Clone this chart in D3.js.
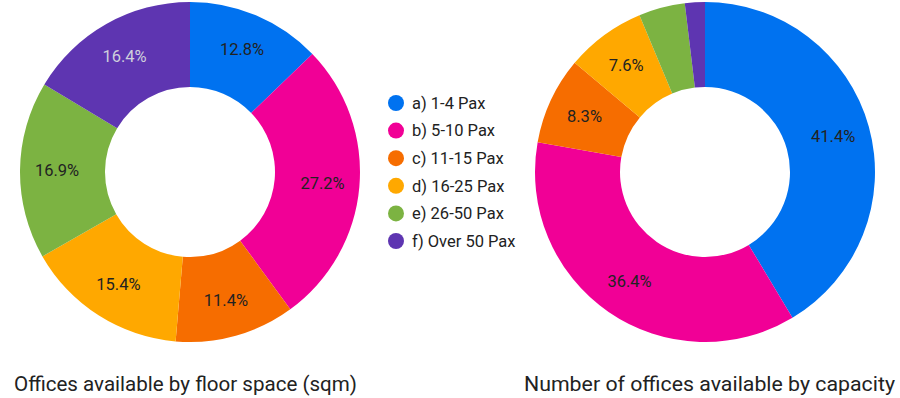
<!DOCTYPE html>
<html>
<head>
<meta charset="utf-8">
<script src="https://cdn.jsdelivr.net/npm/d3@7"></script>
<style>
html,body{margin:0;padding:0;background:#fff;}
svg{display:block;font-family:Roboto, "Noto Sans", sans-serif;}
</style>
</head>
<body>
<svg id="chart" width="900" height="398"></svg>
<script>
const categories = ["a) 1-4 Pax","b) 5-10 Pax","c) 11-15 Pax","d) 16-25 Pax","e) 26-50 Pax","f) Over 50 Pax"];
const colors = ["#0072f0","#f10096","#f66d00","#ffa800","#7cb342","#5e35b1"];
const floorSpaceValues = [12.8, 27.2, 11.4, 15.4, 16.9, 16.4];
const capacityValues = [41.4, 36.4, 8.3, 7.6, 4.4, 1.9];
const titles = ["Offices available by floor space (sqm)", "Number of offices available by capacity"];

const svg = d3.select("#chart");
const outerR = 170, innerR = 85, labelR = 133;
const centers = [[190,172],[705,172]];
const datasets = [floorSpaceValues, capacityValues];
const titleX = [[14,357],[524,895]];

const pie = d3.pie().sort(null).value(d => d);
const arc = d3.arc().innerRadius(innerR).outerRadius(outerR);
const labelArc = d3.arc().innerRadius(labelR).outerRadius(labelR);

datasets.forEach((vals, i) => {
  const g = svg.append("g").attr("transform", `translate(${centers[i][0]},${centers[i][1]})`);
  const arcs = pie(vals);
  g.selectAll("path").data(arcs).join("path")
    .attr("d", arc)
    .attr("fill", (d,k) => colors[k]);
  g.selectAll("text").data(arcs.filter(d => d.data >= 5)).join("text")
    .attr("transform", d => `translate(${labelArc.centroid(d)})`)
    .attr("text-anchor", "middle")
    .attr("dy", "0.35em")
    .attr("font-size", 16.5)
    .attr("fill", d => d.index === 5 ? "#cfcfdc" : "#222")
    .text(d => d.data.toFixed(1) + "%");
  svg.append("text")
    .attr("x", titleX[i][0])
    .attr("y", 391)
    .attr("font-size", 21)
    .attr("textLength", titleX[i][1] - titleX[i][0])
    .attr("lengthAdjust", "spacingAndGlyphs")
    .attr("fill", "#222")
    .text(titles[i]);
});

const legend = svg.append("g");
const ly = d3.scalePoint().domain(categories).range([103, 241]);
const items = legend.selectAll("g").data(categories).join("g")
  .attr("transform", d => `translate(396,${ly(d)})`);
items.append("circle").attr("r", 8).attr("fill", (d,k) => colors[k]);
items.append("text").attr("x", 16).attr("dy", "0.35em")
  .attr("font-size", 16.5).attr("fill", "#222").text(d => d);
</script>
</body>
</html>
